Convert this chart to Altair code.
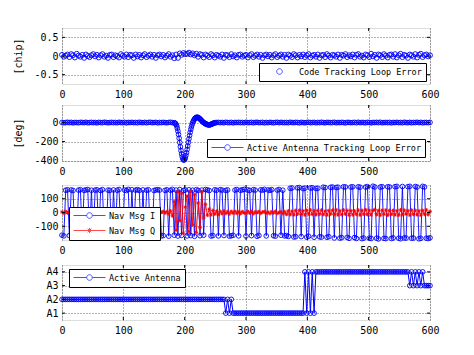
import altair as alt
import pandas as pd

# ---------------- data ----------------
X = list(range(0, 601, 3))

code_err = [
    0.03, -0.02, 0.01, 0.04, -0.03, 0.05, 0.02, -0.04, 0.06, 0.01, -0.02, 0.03, -0.05, 0.04, 0.00, -0.03, 0.02, 0.05, -0.01, 0.03,
    -0.04, 0.02, 0.05, -0.02, 0.01, -0.05, 0.03, 0.04, -0.03, 0.02, 0.00, -0.04, 0.05, 0.01, -0.02, 0.04, -0.03, 0.03, 0.02, -0.05,
    0.04, -0.01, 0.03, -0.04, 0.02, 0.05, -0.03, 0.01, 0.04, -0.02, 0.03, -0.05, 0.02, 0.04, -0.01, 0.03, -0.04, 0.01, 0.05, -0.02,
    0.02, -0.06, 0.04, -0.05, 0.07, 0.03, 0.08, 0.05, 0.06, 0.09, 0.04, 0.07, 0.02, 0.06, -0.02, 0.05, 0.03, -0.04, 0.04, 0.01,
    -0.03, 0.05, 0.02, -0.04, 0.03, 0.01, -0.02, 0.04, -0.05, 0.03, 0.02, -0.03, 0.05, -0.01, 0.02, -0.04, 0.03, 0.04, -0.02, 0.01,
    0.03, -0.04, 0.02, 0.05, -0.03, 0.01, 0.04, -0.02, 0.03, -0.05, 0.02, 0.04, -0.01, 0.03, -0.04, 0.02, 0.05, -0.03, 0.01, 0.04,
    -0.02, 0.03, -0.05, 0.04, 0.01, -0.03, 0.05, 0.02, -0.04, 0.03, -0.01, 0.04, -0.03, 0.02, 0.05, -0.04, 0.01, 0.03, -0.02, 0.04,
    -0.05, 0.02, 0.03, -0.03, 0.05, 0.01, -0.04, 0.03, 0.02, -0.02, 0.04, -0.05, 0.03, 0.01, 0.05, -0.03, 0.02, -0.01, 0.04, -0.04,
    0.03, 0.05, -0.02, 0.01, -0.04, 0.04, 0.02, -0.03, 0.06, -0.01, 0.03, -0.05, 0.04, 0.02, -0.03, 0.05, 0.01, -0.04, 0.03, 0.04,
    -0.02, 0.05, -0.04, 0.02, 0.06, -0.03, 0.03, 0.01, -0.05, 0.04, 0.02, -0.02, 0.05, -0.04, 0.03, 0.06, -0.03, 0.02, 0.04, -0.01,
    0.02,
]

ant_x = list(range(0, 183, 3)) + list(range(183, 251)) + list(range(252, 601, 3))
ant_err = [
    1, -2, 0, 3, -1, 2, -3, 1, 0, -2, 2, 1, -1, 3, -2, 0, 2, -1, 1, -3,
    2, 0, -1, 3, 1, -2, 0, 2, -1, 1, -2, 3, 0, -1, 2, -3, 1, 0, 2, -1,
    1, -2, 3, 0, -1, 2, -2, 1, 3, -1, 0, 2, -3, 1, -1, 2, 0, -2, 1, 3,
    -1,
    -2, -5, -10, -20, -35, -60, -90, -125, -165, -210,
    -255, -295, -330, -360, -382, -393, -395, -388, -372, -348,
    -318, -284, -247, -209, -172, -136, -103, -72, -45, -22,
    -3, 13, 26, 37, 45, 51, 54, 56, 55, 53,
    49, 44, 38, 32, 25, 18, 10, 5, 0, -5,
    -9, -13, -16, -19, -21, -23, -24, -25, -24, -22,
    -19, -16, -13, -10, -7, -5, -3, -1,
    0, 2, -1, 1, -2, 3, 0, -1, 2, -3, 1, 0, 2, -1, 1, -2, 3, -1, 0, 2,
    -2, 1, 3, -1, 0, 2, -3, 1, -1, 2, 0, -2, 1, 3, -1, 2, 0, -1, 1, -2,
    3, 0, -1, 2, 1, -3, 2, 0, -2, 1, 3, -1, 0, 2, -2, 1, -1, 3, 0, -2,
    2, 1, -1, 0, 3, -2, 1, -1, 2, 0, -3, 2, 1, -1, 0, 2, -2, 3, -1, 1,
    0, -2, 2, 1, -3, 1, 0, 2, -1, 3, -2, 0, 1, -1, 2, -3, 1, 0, 2, -1,
    1, -2, 3, 0, -1, 2, -2, 1, 0, 3, -1, 2, -2, 0, 1, -1, 2,
]

nav_i = [
    -165, -170, 162, 165, -168, 164, 160, -172, -166, 163,
    166, -170, 161, 164, 167, -169, 162, -171, 163, 165,
    -168, 160, 166, -173, -167, 163, 161, -170, 164, -166,
    162, 167, -171, -165, 163, 160, 168, -169, 165, -172,
    163, 166, 161, -167, 164, -170, 162, 165, -168, -173,
    160, 164, 166, 163, -170, -168, 161, 165, -172, 162,
    168, -165, 163, -171, 167, -166, 160, 164, -170, 165,
    -168, 162, -173, 166, 161, -169, 163, -165, 167, 164,
    160, -171, -168, 165, 162, -170, 166, 163, -167, 161,
    164, -172, -169, -166, 163, 167, -170, 162, 165, 168,
    -171, 164, 161, -168, 166, 163, -173, -167, 165, 162,
    168, -170, 164, 161, 166, -169, -172, 163, 167, -165,
    162, -170, -168, -174, 176, 178, -178, -176, 179, 181,
    -175, 174, 177, -179, -173, 178, 180, -180, 175, 176,
    -177, -179, 184, 181, -180, -176, 183, 185, -185, 182,
    184, -186, -183, 187, 186, -181, -188, 185, 187, -182,
    -189, 187, 184, -190, -186, 185, 188, -187, -189, 191,
    186, -187, -192, 185, 188, -188, -190, 187, 186, -189,
    -185, 188, 190, -187, -191, 189, -185, -186, 188, 190,
    -187, -186, 189, 185, -191, -188, 190, 186, -187, -189,
    -184,
]

nav_q = [
    4, -6, 8, -3, 5, -9, 2, 7, -5, 3,
    -8, 6, -2, 9, -4, 1, -7, 5, 3, -6,
    8, -3, -9, 4, 6, -5, 2, -8, 7, -1,
    5, -7, 3, 9, -4, -6, 8, 1, -5, 4,
    -9, 7, 2, -3, 6, -8, 4, 5, -2, -7,
    9, -4, 3, -6, 1, 8, -5, 7, -10, 12,
    -25, 80, -130, 150, -60, 140, -150, 40, 120, -140,
    155, -90, 130, -145, 70, -110, 150, -40, 60, -20,
    25, -18, 15, -12, 10, -14, 8, -9, 12, -7,
    6, -10, 8, -5, 9, -6, 4, -8, 7, -3,
    -6, 9, -4, 7, -9, 5, -2, 8, -6, 4,
    7, -5, 3, -8, 6, -4, 9, -7, 2, 5,
    -8, 6, -14, 12, -16, 10, -18, 15, -12, 17,
    -15, 13, -18, 16, -11, 19, -14, 12, -17, 15,
    -13, 18, -16, 11, -19, 14, -12, 17, -15, 20,
    -18, 13, -16, 19, -12, 15, -20, 14, -17, 12,
    -14, 18, -19, 16, -13, 21, -15, 17, -18, 13,
    22, -16, 14, -19, 17, -13, 18, -21, 15, -14,
    16, -18, 13, -20, 19, -15, 17, -12, 14, -19,
    18, -14, 16, -17, 12, -20, 15, -13, 19, -16,
    8,
]

antenna = [
    2, 2, 2, 2, 2, 2, 2, 2, 2, 2, 2, 2, 2, 2, 2, 2, 2, 2, 2, 2,
    2, 2, 2, 2, 2, 2, 2, 2, 2, 2, 2, 2, 2, 2, 2, 2, 2, 2, 2, 2,
    2, 2, 2, 2, 2, 2, 2, 2, 2, 2, 2, 2, 2, 2, 2, 2, 2, 2, 2, 2,
    2, 2, 2, 2, 2, 2, 2, 2, 2, 2, 2, 2, 2, 2, 2, 2, 2, 2, 2, 2,
    2, 2, 2, 2, 2, 2, 2, 2,
    2, 1, 2, 1, 2, 1,
    1, 1, 1, 1, 1, 1, 1, 1, 1, 1, 1, 1, 1, 1, 1, 1, 1, 1, 1, 1,
    1, 1, 1, 1, 1, 1, 1, 1, 1, 1, 1, 1, 1, 1, 1, 1, 1,
    1, 4, 1, 4, 1, 4, 1, 4,
    4, 4, 4, 4, 4, 4, 4, 4, 4, 4, 4, 4, 4, 4, 4, 4, 4, 4, 4, 4,
    4, 4, 4, 4, 4, 4, 4, 4, 4, 4, 4, 4, 4, 4, 4, 4, 4, 4, 4, 4,
    4, 4, 4, 4, 4, 4, 4, 4, 4, 4,
    3, 4, 3, 4, 3, 4, 3, 4,
    3, 3, 3, 3,
]

x_ticks = [0, 100, 200, 300, 400, 500, 600]
y1_ticks = [-0.5, 0, 0.5]
y2_ticks = [-400, -200, 0]
y3_ticks = [-100, 0, 100]
y4_ticks = [1, 2, 3, 4]
names1 = ["Code Tracking Loop Error"]
names2 = ["Active Antenna Tracking Loop Error"]
names3 = ["Nav Msg I", "Nav Msg Q"]
names4 = ["Active Antenna"]

# ---------------- style ----------------
BLUE = "#0000ff"
RED = "#ff0000"
FONT = "DejaVu Sans Mono"
W = 368

# legend symbols (symbolSize 64 -> 4 px per unit; line spans 32 px)
L_CIRC = "M2.3,0A0.7,0.7,0,1,0,3.7,0A0.7,0.7,0,1,0,2.3,0Z"
L_LINE_CIRC = "M-1,0H2.3M3.7,0H7" + L_CIRC
L_LINE_STAR = "M-1,0H7M3,-0.65V0.65M2.54,-0.46L3.46,0.46M2.54,0.46L3.46,-0.46"
STAR = "M-1,0H1M0,-1V1M-0.7,-0.7L0.7,0.7M-0.7,0.7L0.7,-0.7"

MINUS_FIX = "replace(datum.label, '\u2212', '-')"

df1 = pd.DataFrame({"x": X, "v": code_err})
df2 = pd.DataFrame({"x": ant_x, "v": ant_err})
df3 = pd.DataFrame({"x": X, "i": nav_i, "q": nav_q})
df4 = pd.DataFrame({"x": X, "a": antenna})
empty = pd.DataFrame({"s": pd.Series([], dtype=str)})
xt_df = pd.DataFrame({"x": x_ticks[1:-1]})

xscale = alt.Scale(domain=[0, 600], nice=False, zero=False)
GRID = dict(grid=True, gridColor="black", gridDash=[1, 2], gridOpacity=0.75, gridWidth=0.8)


def x_enc(hide600):
    expr = "datum.value == 600 ? '' : datum.label" if hide600 else "datum.label"
    return alt.X("x:Q", scale=xscale, axis=alt.Axis(
        values=x_ticks, title=None, domain=False, ticks=False, tickSize=0,
        labelPadding=5, labelFont=FONT, labelFontSize=10, labelColor="black",
        labelExpr=expr, labelFlush=False, labelOverlap=False, **GRID))


def y_enc(field, domain, vals, title, expr=MINUS_FIX):
    return alt.Y(field, scale=alt.Scale(domain=domain, nice=False, zero=False), axis=alt.Axis(
        values=vals, title=title, domain=False, ticks=False, tickSize=0,
        labelPadding=4, labelFont=FONT, labelFontSize=10, labelColor="black",
        labelExpr=expr, labelFlush=False, labelOverlap=False,
        minExtent=34, maxExtent=34, titlePadding=5, titleFont=FONT, titleFontSize=10,
        titleFontWeight="normal", titleColor="black", **GRID))


def legend(lx, ly, sym=None):
    kw = dict(title=None, orient="none", legendX=lx, legendY=ly, strokeColor="black",
              fillColor="white", padding=4, labelFont=FONT, labelFontSize=8.5,
              labelColor="black", symbolSize=64, symbolStrokeWidth=1, labelOffset=27,
              rowPadding=4, cornerRadius=0, labelLimit=400)
    if sym is not None:
        kw["symbolType"] = sym
    return alt.Legend(**kw)


def ticks_layers(xe, ye, yvals, H):
    """small inward tick marks on all four sides, like the original figure"""
    ydf = pd.DataFrame({"y": yvals})
    out = []
    for a, b in [(0, 3), (H - 3, H)]:
        out.append(alt.Chart(xt_df).mark_rule(color="black", strokeWidth=1).encode(
            x=xe, y=alt.value(a), y2=alt.value(b)))
    for a, b in [(0, 3), (W - 3, W)]:
        out.append(alt.Chart(ydf).mark_rule(color="black", strokeWidth=1).encode(
            y=ye, x=alt.value(a), x2=alt.value(b)))
    return out


# ---------------- panel 1 ----------------
d1 = [-0.75, 0.75]
ex1 = "datum.value == 0 ? '0' : " + MINUS_FIX
xe1 = x_enc(False)
ye1 = y_enc("v:Q", d1, y1_ticks, "[chip]", ex1)
p1_pts = alt.Chart(df1).mark_point(shape="circle", filled=False, size=24, strokeWidth=0.9,
                                   color=BLUE, opacity=1).encode(x=xe1, y=ye1)
p1_leg = alt.Chart(empty).mark_point(filled=False).encode(
    color=alt.Color("s:N", scale=alt.Scale(domain=names1, range=[BLUE]), legend=legend(197, 35, L_CIRC)))
p1 = alt.layer(p1_pts, *ticks_layers(xe1, y_enc("y:Q", d1, y1_ticks, "[chip]", ex1), y1_ticks, 56), p1_leg
               ).properties(width=W, height=56)

# ---------------- panel 2 ----------------
d2 = [-405, 185]
xe2 = x_enc(True)
ye2 = y_enc("v:Q", d2, y2_ticks, "[deg]")
p2_line = alt.Chart(df2).mark_line(color=BLUE, strokeWidth=1).encode(x=xe2, y=ye2)
p2_pts = alt.Chart(df2).mark_point(shape="circle", filled=False, size=22, strokeWidth=0.9,
                                   color=BLUE, opacity=1).encode(x=xe2, y=ye2)
p2_leg = alt.Chart(empty).mark_point(filled=False).encode(
    color=alt.Color("s:N", scale=alt.Scale(domain=names2, range=[BLUE]), legend=legend(145, 34, L_LINE_CIRC)))
p2 = alt.layer(p2_line, p2_pts, *ticks_layers(xe2, y_enc("y:Q", d2, y2_ticks, "[deg]"), y2_ticks[1:], 56), p2_leg
               ).properties(width=W, height=56)

# ---------------- panel 3 ----------------
d3 = [-200, 200]
xe3 = x_enc(True)
ye3i = y_enc("i:Q", d3, y3_ticks, " ")
ye3q = y_enc("q:Q", d3, y3_ticks, " ")
p3_iline = alt.Chart(df3).mark_line(color=BLUE, strokeWidth=0.9).encode(x=xe3, y=ye3i)
p3_ipts = alt.Chart(df3).mark_point(shape="circle", filled=False, size=22, strokeWidth=0.9,
                                    color=BLUE, opacity=1).encode(x=xe3, y=ye3i)
p3_qline = alt.Chart(df3).mark_line(color=RED, strokeWidth=0.9).encode(x=xe3, y=ye3q)
p3_qpts = alt.Chart(df3).mark_point(shape=STAR, filled=False, size=14, strokeWidth=0.9,
                                    color=RED, opacity=1).encode(x=xe3, y=ye3q)
p3_leg = alt.Chart(empty).mark_point(filled=False).encode(
    color=alt.Color("s:N", scale=alt.Scale(domain=names3, range=[BLUE, RED]), legend=legend(7, 22)),
    shape=alt.Shape("s:N", scale=alt.Scale(domain=names3, range=[L_LINE_CIRC, L_LINE_STAR]), legend=legend(7, 22)))
p3 = alt.layer(p3_iline, p3_ipts, p3_qline, p3_qpts,
               *ticks_layers(xe3, y_enc("y:Q", d3, y3_ticks, " "), y3_ticks, 55), p3_leg
               ).properties(width=W, height=55)

# ---------------- panel 4 ----------------
d4 = [0.5, 4.5]
ex4 = "'A' + datum.value"
xe4 = x_enc(False)
ye4 = y_enc("a:Q", d4, y4_ticks, " ", ex4)
p4_line = alt.Chart(df4).mark_line(color=BLUE, strokeWidth=1).encode(x=xe4, y=ye4)
p4_pts = alt.Chart(df4).mark_point(shape="circle", filled=False, size=22, strokeWidth=0.9,
                                   color=BLUE, opacity=1).encode(x=xe4, y=ye4)
p4_leg = alt.Chart(empty).mark_point(filled=False).encode(
    color=alt.Color("s:N", scale=alt.Scale(domain=names4, range=[BLUE]), legend=legend(7, 4, L_LINE_CIRC)))
p4 = alt.layer(p4_line, p4_pts, *ticks_layers(xe4, y_enc("y:Q", d4, y4_ticks, " ", ex4), y4_ticks, 55), p4_leg
               ).properties(width=W, height=55)

top3 = alt.vconcat(p1, p2, p3, spacing=4).resolve_scale(color="independent", shape="independent")
chart = alt.vconcat(top3, p4, spacing=8).resolve_scale(
    color="independent", shape="independent"
).properties(
    padding={"left": 4, "top": 19, "right": 0, "bottom": 0}
).configure_view(stroke="black", strokeWidth=1).configure(background="white")

chart.save("out.html", embed_options={"renderer": "svg", "actions": False})
